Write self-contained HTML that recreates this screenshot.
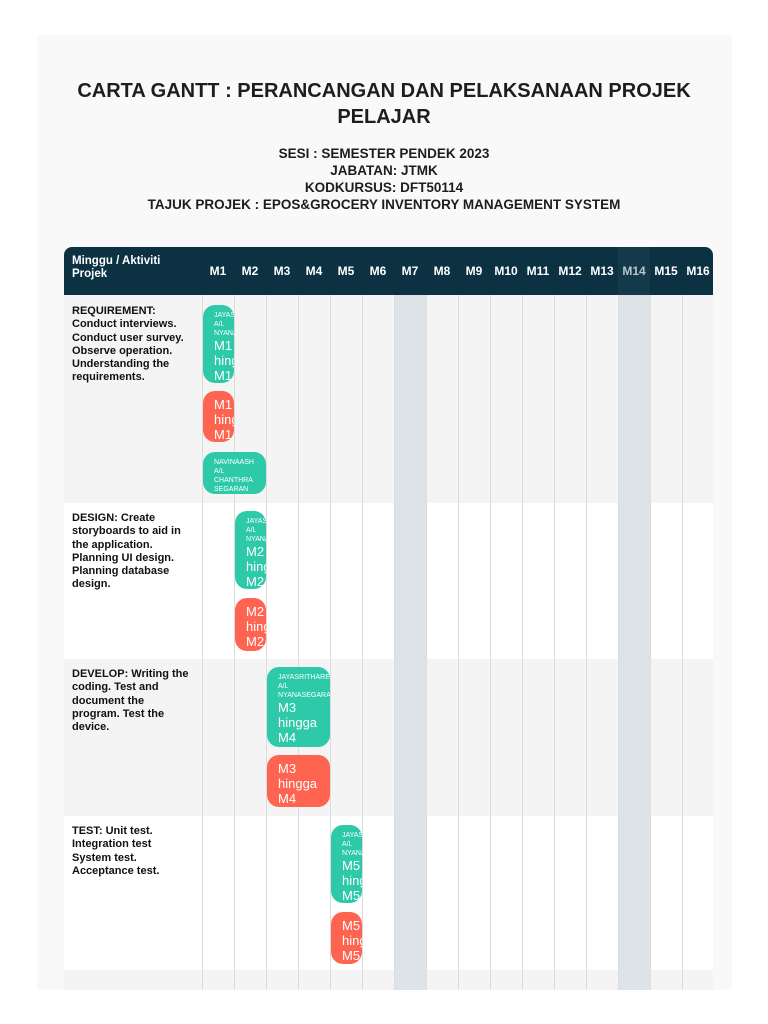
<!DOCTYPE html>
<html><head><meta charset="utf-8"><style>
*{margin:0;padding:0;box-sizing:border-box}
body{width:768px;height:1024px;background:#fff;font-family:"Liberation Sans",Arial,sans-serif;position:relative;overflow:hidden}
#card{position:absolute;left:37px;top:35px;width:695px;height:955px;background:#f9f9f9}
.t{position:absolute;left:0;width:768px;text-align:center;color:#1d1d1d;font-weight:bold}
.a{position:absolute}
.hd{position:absolute;top:247px;height:48px;background:#0b3142;color:#fff;font-weight:bold;font-size:12px}
.col{position:absolute;top:247px;width:32px;text-align:center;color:#fff;font-weight:bold;font-size:12px;line-height:48px;height:48px}
.vl{position:absolute;top:295px;width:1px;height:695px;background:#dcdcdc}
.lab{position:absolute;left:72px;font-size:11px;font-weight:bold;line-height:13.3px;color:#111;white-space:nowrap}
.bar{position:absolute;border-radius:12px;color:#fff;overflow:hidden;padding:6px 0 0 11px;white-space:nowrap}
.g{background:#2ec9a8}.r{background:#ff6450}
.sm{font-size:7px;line-height:9px}
.big{font-size:13px;line-height:15px}
</style></head><body>
<div id="card"></div>
<div class="t" style="top:78px;font-size:20px;line-height:26px;padding:0 55px">CARTA GANTT : PERANCANGAN DAN PELAKSANAAN PROJEK PELAJAR</div>
<div class="t" style="top:145px;font-size:13.5px;line-height:17px">SESI : SEMESTER PENDEK 2023<br>JABATAN: JTMK<br>KODKURSUS: DFT50114<br>TAJUK PROJEK : EPOS&amp;GROCERY INVENTORY MANAGEMENT SYSTEM</div>

<div class="a" style="left:64px;top:295px;width:649px;height:208px;background:#f4f4f4"></div>
<div class="a" style="left:64px;top:503px;width:649px;height:156px;background:#fff"></div>
<div class="a" style="left:64px;top:659px;width:649px;height:157px;background:#f4f4f4"></div>
<div class="a" style="left:64px;top:816px;width:649px;height:154px;background:#fff"></div>
<div class="a" style="left:64px;top:970px;width:649px;height:20px;background:#f4f4f4"></div>
<div class="a" style="left:394px;top:295px;width:32px;height:695px;background:#dde3e6"></div>
<div class="a" style="left:618px;top:295px;width:32px;height:695px;background:#dde3e6"></div>

<div class="hd" style="left:64px;width:649px;border-radius:8px 8px 0 0"></div>
<div class="a" style="left:72px;top:255px;color:#fff;font-weight:bold;font-size:11.5px;line-height:13px">Minggu / Aktiviti<br>Projek</div>
<div class="col" style="left:202px">M1</div><div class="col" style="left:234px">M2</div><div class="col" style="left:266px">M3</div><div class="col" style="left:298px">M4</div><div class="col" style="left:330px">M5</div><div class="col" style="left:362px">M6</div><div class="col" style="left:394px">M7</div><div class="col" style="left:426px">M8</div><div class="col" style="left:458px">M9</div><div class="col" style="left:490px">M10</div><div class="col" style="left:522px">M11</div><div class="col" style="left:554px">M12</div><div class="col" style="left:586px">M13</div><div class="col" style="left:618px;background:#13394b;color:#b9c4cb">M14</div><div class="col" style="left:650px">M15</div><div class="col" style="left:682px">M16</div>

<div class="vl" style="left:202px"></div><div class="vl" style="left:234px"></div><div class="vl" style="left:266px"></div><div class="vl" style="left:298px"></div><div class="vl" style="left:330px"></div><div class="vl" style="left:362px"></div><div class="vl" style="left:394px"></div><div class="vl" style="left:426px"></div><div class="vl" style="left:458px"></div><div class="vl" style="left:490px"></div><div class="vl" style="left:522px"></div><div class="vl" style="left:554px"></div><div class="vl" style="left:586px"></div><div class="vl" style="left:618px"></div><div class="vl" style="left:650px"></div><div class="vl" style="left:682px"></div>

<div class="lab" style="top:305px">REQUIREMENT:<br>Conduct interviews.<br>Conduct user survey.<br>Observe operation.<br>Understanding the<br>requirements.</div>
<div class="lab" style="top:512px">DESIGN: Create<br>storyboards to aid in<br>the application.<br>Planning UI design.<br>Planning database<br>design.</div>
<div class="lab" style="top:668px">DEVELOP: Writing the<br>coding. Test and<br>document the<br>program. Test the<br>device.</div>
<div class="lab" style="top:825px">TEST: Unit test.<br>Integration test<br>System test.<br>Acceptance test.</div>

<div class="bar g" style="left:203px;top:305px;width:31px;height:78px"><div class="sm">JAYASRITHAREN<br>A/L<br>NYANASEGARAN</div><div class="big">M1<br>hingga<br>M1</div></div>
<div class="bar r" style="left:203px;top:391px;width:31px;height:51px"><div class="big">M1<br>hingga<br>M1</div></div>
<div class="bar g" style="left:203px;top:452px;width:63px;height:42px"><div class="sm">NAVINAASH<br>A/L<br>CHANTHRA<br>SEGARAN</div></div>

<div class="bar g" style="left:235px;top:511px;width:31px;height:78px"><div class="sm">JAYASRITHAREN<br>A/L<br>NYANASEGARAN</div><div class="big">M2<br>hingga<br>M2</div></div>
<div class="bar r" style="left:235px;top:598px;width:31px;height:53px"><div class="big">M2<br>hingga<br>M2</div></div>

<div class="bar g" style="left:267px;top:667px;width:63px;height:80px"><div class="sm">JAYASRITHAREN<br>A/L<br>NYANASEGARAN</div><div class="big">M3<br>hingga<br>M4</div></div>
<div class="bar r" style="left:267px;top:755px;width:63px;height:52px"><div class="big">M3<br>hingga<br>M4</div></div>

<div class="bar g" style="left:331px;top:825px;width:31px;height:78px"><div class="sm">JAYASRITHAREN<br>A/L<br>NYANASEGARAN</div><div class="big">M5<br>hingga<br>M5</div></div>
<div class="bar r" style="left:331px;top:912px;width:31px;height:52px"><div class="big">M5<br>hingga<br>M5</div></div>
</body></html>
